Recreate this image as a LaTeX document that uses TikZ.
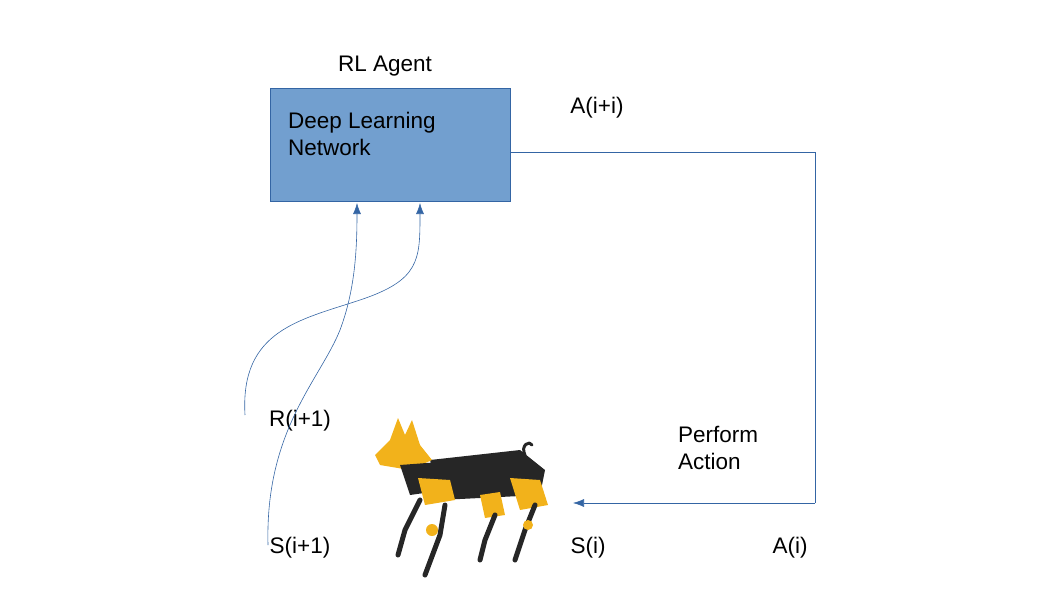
\documentclass[tikz,border=0pt]{standalone}
\usepackage{fontspec}
\setmainfont{Liberation Sans}
\usetikzlibrary{arrows.meta}
\begin{document}
\begin{tikzpicture}[x=1pt,y=-1pt,
  lbl/.style={font=\fontsize{22.5}{27}\selectfont,inner sep=0pt}]
\useasboundingbox (0,0) rectangle (1058,595);
\definecolor{boxfill}{HTML}{729FCF}
\definecolor{boxline}{HTML}{3465A4}
\definecolor{dogy}{HTML}{F2B21B}
\tikzset{conn/.style={draw=boxline,line width=0.6pt}}
\node[draw=boxline,fill=boxfill,minimum width=240pt,minimum height=113pt,anchor=north west] (net) at (270,88) {};
\node[lbl,align=left,anchor=north west] (nt) at (288,112) {Deep Learning\\Network};
\node[lbl] (rl) at (385,66) {RL Agent};
\node[lbl] (ai1) at (597,108) {A(i+i)};
\node[lbl,align=left,anchor=north west] (pa) at (678,426) {Perform\\Action};
\node[lbl] (ai) at (790,548) {A(i)};
\node[lbl] (si) at (588,548) {S(i)};
\node[lbl] (si1) at (300,548) {S(i+1)};
\node[lbl] (ri1) at (300,421) {R(i+1)};
\coordinate (c1) at (815,152);
\coordinate (c2) at (815,503);
\coordinate (dogr) at (573,503);
\coordinate (rs) at (245,415);
\coordinate (ss) at (268,545);
\coordinate (t1) at (420,203);
\coordinate (t2) at (357,203);
\draw[conn] (net.east |- c1) -- (c1) -- (c2);
\draw[conn,-{Latex[length=11pt,width=8pt]}] (c2) -- (dogr);
\draw[conn,-{Latex[length=11pt,width=8pt]}] (rs) .. controls (240,330) and (300,320) .. (360,300) .. controls (420,280) and (420,260) .. (t1);
\draw[conn,-{Latex[length=11pt,width=8pt]}] (ss) .. controls (265,430) and (320,380) .. (340,330) .. controls (355,290) and (357,250) .. (t2);
% stylized robot dog
\begin{scope}[line join=round]
\fill[black!85] (430,460) -- (520,450) -- (545,470) -- (540,495) -- (440,500) -- cycle;
\draw[black!85,line width=3pt,line cap=round] (525,455) .. controls (520,445) and (530,440) .. (532,445);
\fill[dogy] (375,455) -- (390,440) -- (398,418) -- (405,435) -- (412,420) -- (420,445) -- (432,460) -- (410,470) -- (380,465) -- cycle;
\fill[black!85] (400,465) -- (440,462) -- (445,490) -- (410,495) -- cycle;
\fill[dogy] (418,478) -- (450,480) -- (455,500) -- (425,505) -- cycle;
\fill[dogy] (510,478) -- (540,480) -- (548,505) -- (520,510) -- cycle;
\fill[dogy] (480,495) -- (500,492) -- (505,515) -- (485,518) -- cycle;
\draw[black!85,line width=5pt,line cap=round] (420,500) -- (405,530) -- (398,555);
\draw[black!85,line width=5pt,line cap=round] (445,505) -- (440,535) -- (425,575);
\draw[black!85,line width=5pt,line cap=round] (495,515) -- (485,540) -- (480,560);
\draw[black!85,line width=5pt,line cap=round] (535,505) -- (525,530) -- (515,560);
\fill[dogy] (432,530) circle (6pt);
\fill[dogy] (528,525) circle (5pt);
\end{scope}
\end{tikzpicture}
\end{document}
